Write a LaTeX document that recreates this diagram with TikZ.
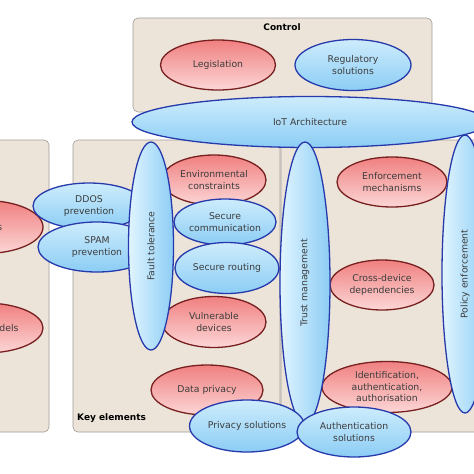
\documentclass[tikz,border=0pt]{standalone}
\usepackage{fontspec}
\setmainfont{DejaVu Sans}
\usetikzlibrary{shapes.geometric}
\definecolor{AreaFill}{RGB}{236,228,217}
\definecolor{AreaLine}{RGB}{160,155,150}
\definecolor{RiskTop}{RGB}{240,128,128}
\definecolor{RiskMid}{RGB}{248,180,180}
\definecolor{RiskBot}{RGB}{252,214,214}
\definecolor{RiskLine}{RGB}{120,32,32}
\definecolor{SolTop}{RGB}{205,236,252}
\definecolor{SolMid}{RGB}{225,245,255}
\definecolor{SolBot}{RGB}{140,205,245}
\definecolor{SolLine}{RGB}{38,58,172}
\definecolor{TextGrey}{RGB}{60,60,60}

\begin{document}
\begin{tikzpicture}[x=1pt,y=-1pt,
    area/.style={draw=AreaLine,fill=AreaFill,rounded corners=5pt,line width=0.6pt},
    title/.style={font=\bfseries\fontsize{9}{11}\selectfont,inner sep=0pt},
    risk/.style={ellipse,draw=RiskLine,line width=1.3pt,top color=RiskTop,middle color=RiskMid,
                 bottom color=RiskBot,inner sep=0pt,text=TextGrey,align=center,
                 font=\fontsize{9.3}{11.5}\selectfont},
    sol/.style={ellipse,draw=SolLine,line width=1.3pt,top color=SolTop,middle color=SolMid,
                bottom color=SolBot,inner sep=0pt,text=TextGrey,align=center,
                font=\fontsize{9.3}{11.5}\selectfont},
    vsol/.style={sol,rotate=90,left color=SolMid,right color=SolBot}
  ]
    \useasboundingbox (0,0) rectangle (474,474);
    \clip (0,0) rectangle (474,474);
    % areas
    \draw[area] (133,18) rectangle (432,112);
    \draw[area] (-20,140) rectangle (49,432);
    \draw[area] (73,140) rectangle (280,432);
    \draw[area] (281,140) rectangle (490,432);
    \node[title] (ctl) at (282,27) {Control};
    \node[title,anchor=west] (key) at (77,418) {Key elements};
    % threats
    \node[risk,minimum width=116,minimum height=53] (atk) at (-15,227) {Attacks};
    \node[risk,minimum width=116,minimum height=50] (mod) at (-15,328) {Threat models};
    \node[risk,minimum width=115,minimum height=50] (leg) at (218,65) {Legislation};
    \node[sol,minimum width=116,minimum height=51] (reg) at (353,65) {Regulatory\\solutions};
    \node[risk,minimum width=104,minimum height=50] (env) at (214,180) {Environmental\\constraints};
    \node[sol,minimum width=102,minimum height=46] (com) at (225,222) {Secure\\communication};
    \node[sol,minimum width=104,minimum height=51] (rou) at (227,268) {Secure routing};
    \node[risk,minimum width=104,minimum height=51] (vul) at (214,322) {Vulnerable\\devices};
    \node[risk,minimum width=112,minimum height=50] (dat) at (207,390) {Data privacy};
    \node[risk,minimum width=110,minimum height=50] (enf) at (392,182) {Enforcement\\mechanisms};
    \node[risk,minimum width=104,minimum height=50] (crs) at (382,285) {Cross-device\\dependencies};
    \node[risk,minimum width=130,minimum height=51] (ida) at (387,387) {Identification,\\authentication,\\authorisation};
    % solutions
    \node[sol,minimum width=112,minimum height=46] (dds) at (89,206) {DDOS\\prevention};
    \node[sol,minimum width=118,minimum height=50] (spm) at (97,247) {SPAM\\prevention};
    \node[sol,minimum width=356,minimum height=51] (iot) at (310,122) {IoT Architecture};
    \node[vsol,minimum width=208,minimum height=45] (flt) at (151,246) {Fault tolerance};
    \node[vsol,minimum width=282,minimum height=50] (trs) at (305,283) {Trust management};
    \node[vsol,minimum width=278,minimum height=46] (pol) at (465,274) {Policy enforcement};
    \node[sol,minimum width=115,minimum height=52] (prv) at (247,426) {Privacy solutions};
    \node[sol,minimum width=114,minimum height=50] (aut) at (354,432) {Authentication\\solutions};
\end{tikzpicture}
\end{document}
